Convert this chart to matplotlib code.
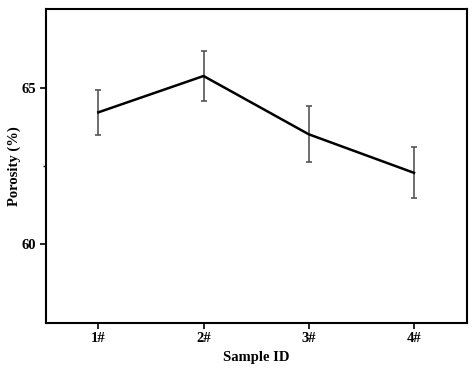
import matplotlib
matplotlib.use("Agg")
import matplotlib.pyplot as plt
from matplotlib.ticker import MultipleLocator, FixedLocator

samples = ["1#", "2#", "3#", "4#"]
porosity = [64.21, 65.37, 63.51, 62.28]
porosity_err = [0.71, 0.80, 0.90, 0.81]

plt.rcParams['font.family'] = ['Liberation Serif', 'DejaVu Serif']
plt.rcParams['font.weight'] = 'bold'

fig = plt.figure(figsize=(4.74, 3.7), dpi=100)
ax = fig.add_axes([0.0964, 0.128, 0.888, 0.847])

x = list(range(1, len(samples) + 1))
ax.errorbar(x, porosity, yerr=porosity_err, color='black', lw=1.8,
            ecolor='#555555', elinewidth=1.2, capsize=2.5, capthick=1.2)

ax.set_xlim(0.5, 4.5)
ax.set_ylim(57.5, 67.5)
ax.set_xticks(x)
ax.set_xticklabels(samples)
ax.yaxis.set_major_locator(MultipleLocator(5))
ax.yaxis.set_minor_locator(FixedLocator([62.5]))

for s in ax.spines.values():
    s.set_linewidth(1.5)
ax.tick_params(axis='both', which='major', direction='out', length=4, width=1.2,
               labelsize=10.5, pad=3)
ax.tick_params(axis='y', which='minor', direction='out', length=2, width=1.0)

ax.set_xlabel("Sample ID", fontsize=10.5, fontweight='bold', labelpad=4)
ax.set_ylabel("Porosity (%)", fontsize=10.5, fontweight='bold', labelpad=0)

fig.savefig("out.png", dpi=100)
